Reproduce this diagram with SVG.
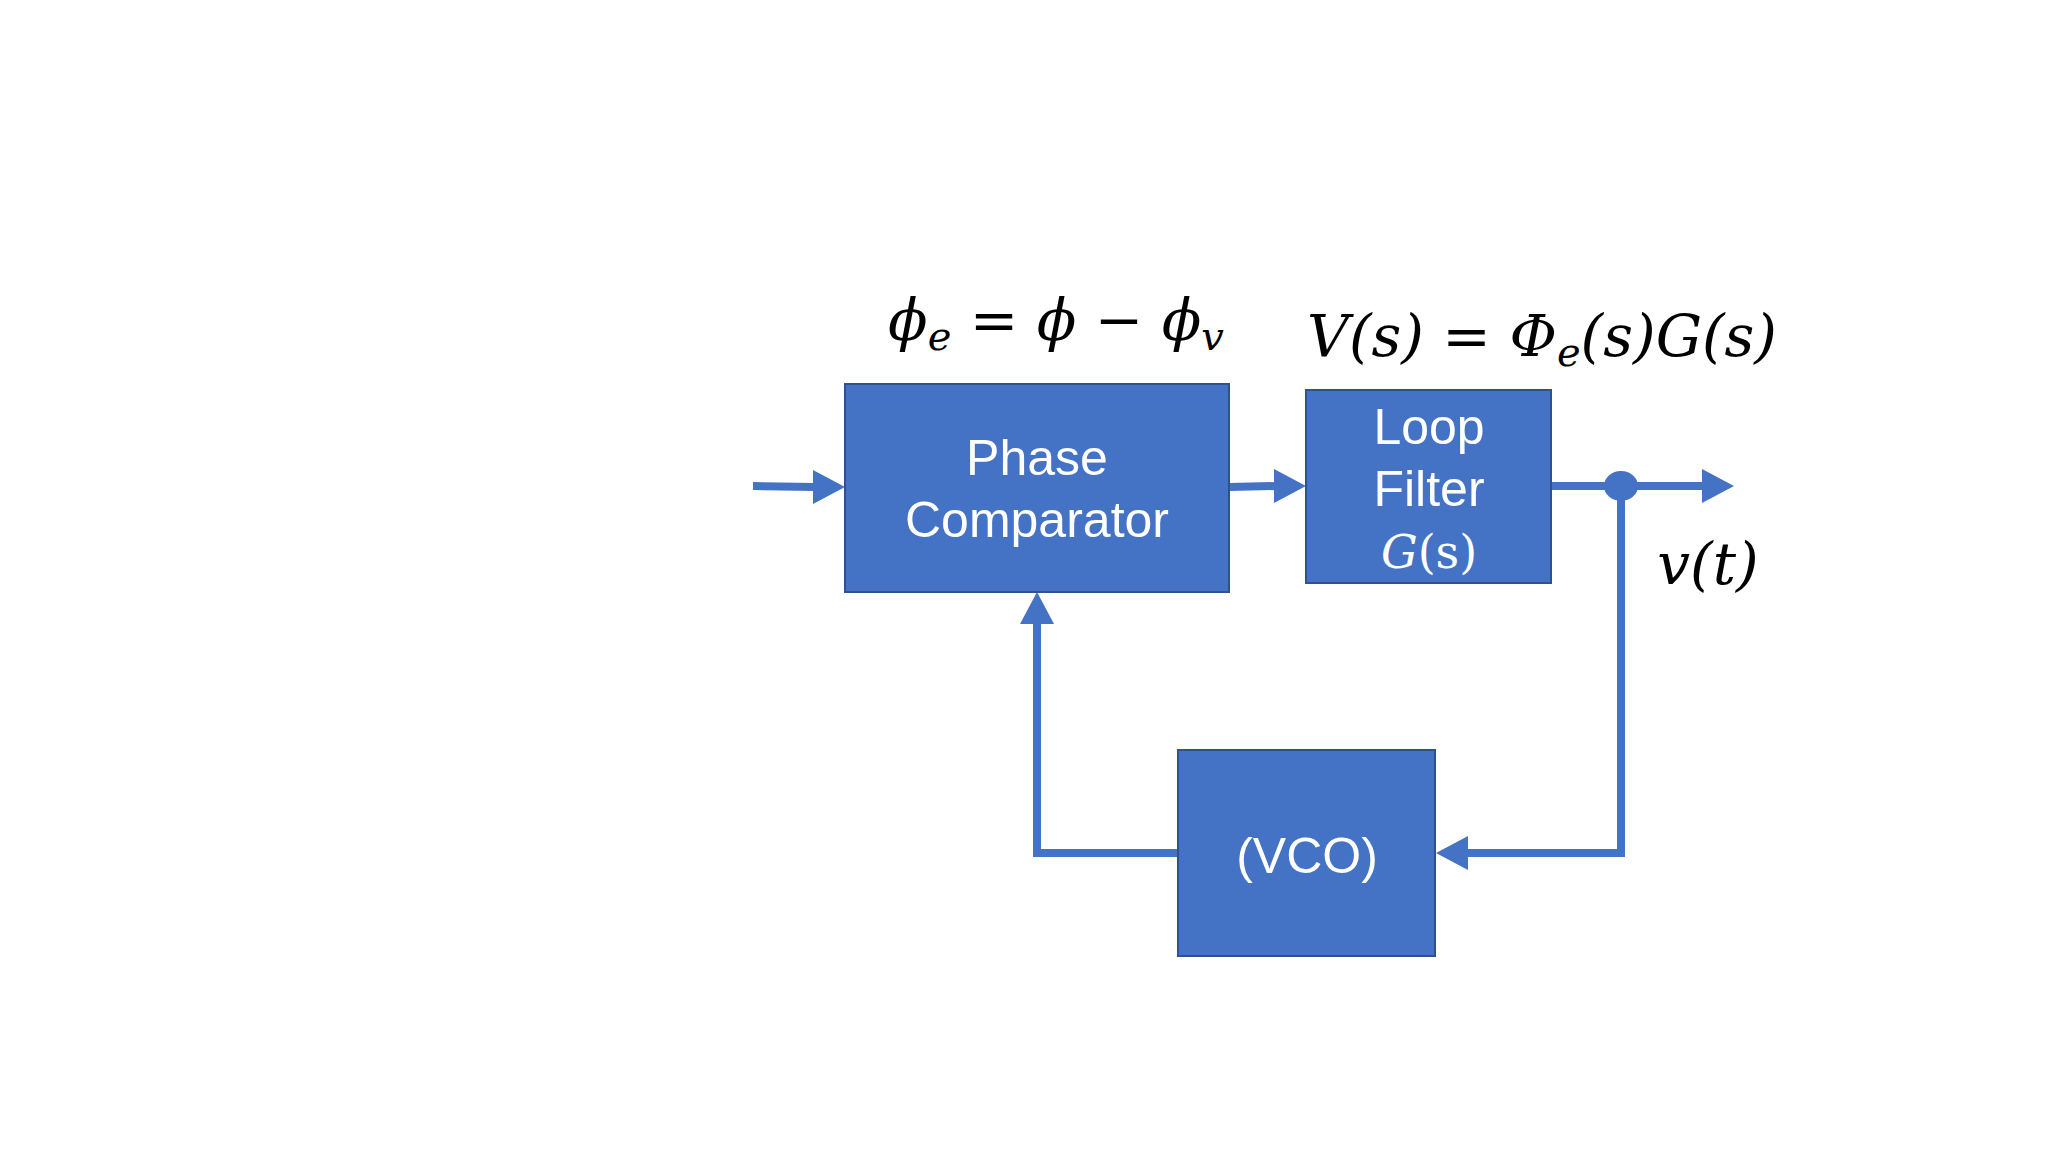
<svg xmlns="http://www.w3.org/2000/svg" width="2048" height="1152" viewBox="0 0 2048 1152">
<style>
.box{fill:#4472C4;stroke:#2F528F;stroke-width:2}
.lbl{font-family:"Liberation Sans",Arial,sans-serif;font-size:50px;fill:#fff;text-anchor:middle}
.ln{stroke:#4472C4;stroke-width:8;fill:none}
.ah{fill:#4472C4}
.math{font-family:"DejaVu Serif","Liberation Serif",serif;font-style:italic;font-size:58px;fill:#000}
</style>
<rect width="2048" height="1152" fill="#fff"/>
<g id="connectors">
<line class="ln" x1="753" y1="486" x2="815" y2="487"/>
<polygon class="ah" points="845,487 813,470 813,504"/>
<line class="ln" x1="1229" y1="487" x2="1276" y2="486"/>
<polygon class="ah" points="1306,486 1274,469 1274,503"/>
<line class="ln" x1="1551" y1="486" x2="1702" y2="486"/>
<polygon class="ah" points="1734,486 1702,469 1702,503"/>
<ellipse cx="1621" cy="486" rx="17" ry="15" fill="#4472C4"/>
<polyline class="ln" points="1621,486 1621,853 1466,853"/>
<polygon class="ah" points="1436,853 1468,836 1468,870"/>
<polyline class="ln" points="1178,853 1037,853 1037,622"/>
<polygon class="ah" points="1037,592 1020,624 1054,624"/>
</g>
<g id="phase-comparator">
<rect class="box" x="845" y="384" width="384" height="208"/>
<text class="lbl" x="1037" y="475">Phase</text>
<text class="lbl" x="1037" y="537">Comparator</text>
</g>
<g id="loop-filter">
<rect class="box" x="1306" y="390" width="245" height="193"/>
<text class="lbl" x="1429" y="444">Loop</text>
<text class="lbl" x="1429" y="506">Filter</text>
<text class="lbl" x="1429" y="568" style="font-family:'DejaVu Serif','Liberation Serif',serif;font-size:46px"><tspan font-style="italic">G</tspan>(s)</text>
</g>
<g id="vco">
<rect class="box" x="1178" y="750" width="257" height="206"/>
<text class="lbl" x="1307" y="873">(VCO)</text>
</g>
<g id="labels">
<text class="math" x="1056" y="340" text-anchor="middle">ϕ<tspan font-size="40" dy="10">e</tspan><tspan dy="-10"> = ϕ − ϕ</tspan><tspan font-size="40" dy="10">v</tspan></text>
<text class="math" x="1542" y="356" text-anchor="middle">V(s) = Φ<tspan font-size="40" dy="10">e</tspan><tspan dy="-10">(s)G(s)</tspan></text>
<text class="math" x="1708" y="584" text-anchor="middle">v(t)</text>
</g>
</svg>
